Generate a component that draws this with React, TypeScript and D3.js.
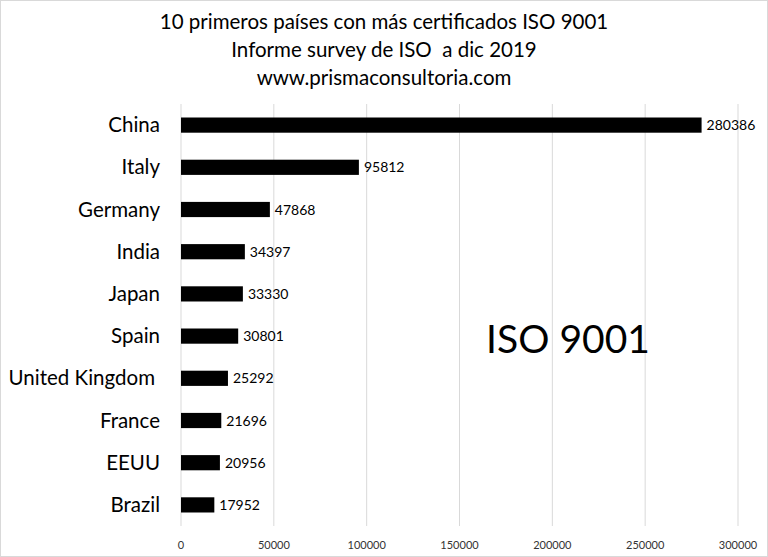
import React from "react";
import * as d3 from "d3";

const categories = ["China", "Italy", "Germany", "India", "Japan", "Spain", "United Kingdom", "France", "EEUU", "Brazil"];
const values = [280386, 95812, 47868, 34397, 33330, 30801, 25292, 21696, 20956, 17952];
const tickValues = [0, 50000, 100000, 150000, 200000, 250000, 300000];
const titleLines = [
  "10 primeros países con más certificados ISO 9001",
  "Informe survey de ISO  a dic 2019",
  "www.prismaconsultoria.com",
];
const watermark = "ISO 9001";

const W = 768;
const H = 557;
const FONT = "Lato, 'Open Sans', sans-serif";

export default function App() {
  const x = d3.scaleLinear().domain([0, 300000]).range([181, 738]);
  const y = d3.scaleBand().domain(categories).range([104, 526]).paddingInner(0.64).paddingOuter(0.32);

  return (
    <svg width={W} height={H} style={{ position: "absolute", left: 0, top: 0, background: "#fff" }}>
      <rect x={0.5} y={0.5} width={W - 1} height={H - 1} fill="#fff" stroke="#d9d9d9" />
      {titleLines.map((t, i) => (
        <text
          key={i}
          x={384}
          y={29 + i * 28}
          textAnchor="middle"
          fontFamily={FONT}
          fontSize={20.5}
          fill="#000"
          style={{ whiteSpace: "pre" }}
        >
          {t}
        </text>
      ))}
      {tickValues.map((t) => (
        <line key={"g" + t} x1={x(t)} x2={x(t)} y1={104} y2={526} stroke="#d9d9d9" strokeWidth={1} />
      ))}
      {categories.map((c, i) => (
        <g key={c}>
          <rect x={x(0)} y={y(c)!} width={x(values[i]) - x(0)} height={y.bandwidth()} fill="#000" />
          <text
            x={x(values[i]) + 5}
            y={y(c)! + y.bandwidth() / 2 + 5}
            fontFamily={FONT}
            fontSize={14}
            fill="#000"
          >
            {values[i]}
          </text>
          <text
            x={c === "United Kingdom" ? 155 : 160}
            y={y(c)! + y.bandwidth() / 2 + 7}
            textAnchor="end"
            fontFamily={FONT}
            fontSize={20.5}
            fill="#000"
          >
            {c}
          </text>
        </g>
      ))}
      {tickValues.map((t) => (
        <text key={"t" + t} x={x(t)} y={549} textAnchor="middle" fontFamily={FONT} fontSize={11} fill="#333">
          {t}
        </text>
      ))}
      <text x={568} y={353} textAnchor="middle" fontFamily={FONT} fontSize={39} fill="#000">
        {watermark}
      </text>
    </svg>
  );
}
